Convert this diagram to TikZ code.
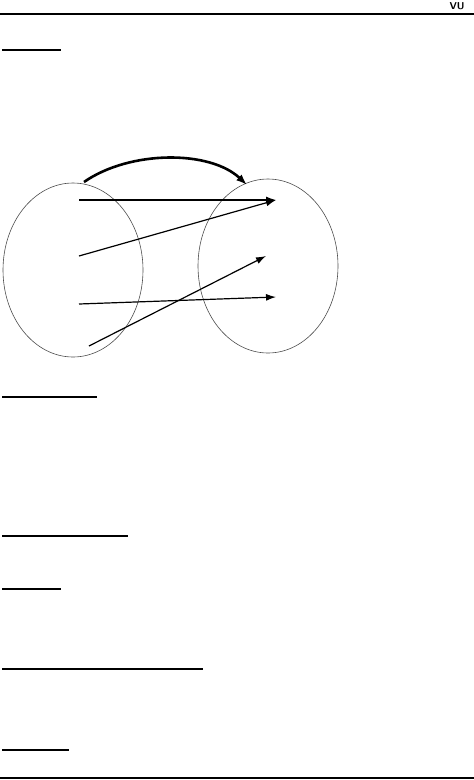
\documentclass[tikz,border=0pt]{standalone}
\usetikzlibrary{arrows.meta}
\tikzset{
  setline/.style={draw=black!70, line width=0.6pt},
  maparrow/.style={line width=1.2pt, -{Latex[length=10pt,width=7pt]}},
  headrule/.style={line width=1.2pt},
}
\begin{document}
\begin{tikzpicture}[x=1pt,y=-1pt]%
\useasboundingbox (0,0) rectangle (474,780);%
% page frame
\draw[line width=2.4pt] (0,14) -- (474,14);%
\node[font=\sffamily\bfseries, inner sep=0pt] (vu) at (457,6) {VU};%
\draw[line width=2.4pt] (0,778) -- (474,778);%
% heading rules
\draw[headrule] (2,50) -- ++(59,0);%
\draw[headrule] (2,397) -- ++(95,0);%
\draw[headrule] (2,536) -- ++(126,0);%
\draw[headrule] (2,589) -- ++(59,0);%
\draw[headrule] (2,669) -- ++(201,0);%
\draw[headrule] (2,750) -- ++(67,0);%
%
% the two sets
\draw[setline] (73,270) ellipse (70 and 87);%
\draw[setline] (268,266) ellipse (70 and 87);%
%
\coordinate (a1) at (79,200);%
\coordinate (a2) at (79,256);%
\coordinate (a3) at (79,304);%
\coordinate (a4) at (89,346);%
\coordinate (b1) at (276,200);%
\coordinate (b2) at (266,256);%
\coordinate (b3) at (276,297);%
\coordinate (fa) at (84,182);%
\coordinate (fb) at (247,185);%
%
\draw[maparrow] (a1) -- (b1);%
\draw[maparrow] (a2) -- (b1);%
\draw[maparrow] (a3) -- (b3);%
\draw[maparrow] (a4) -- (b2);%
\draw[line width=2.6pt, -{Latex[length=11pt,width=8pt]}] (fa) .. controls (130,150) and (210,150) .. (fb);%
\end{tikzpicture}
\end{document}
